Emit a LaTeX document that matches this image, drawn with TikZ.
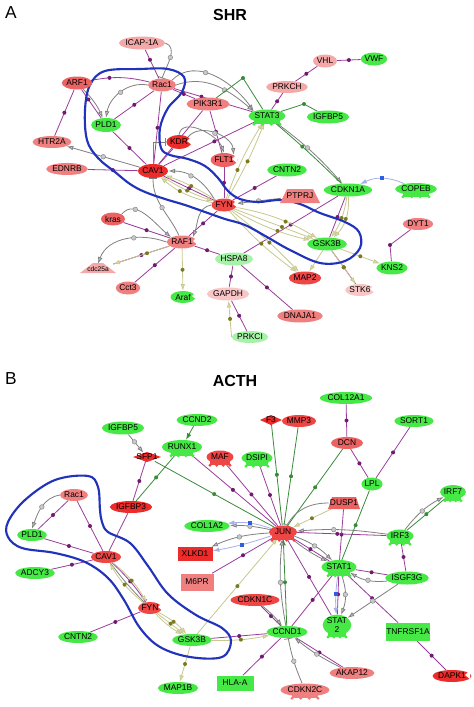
\documentclass[tikz,border=0pt]{standalone}
\usepackage{fontspec}
\setmainfont{Liberation Sans}
\usetikzlibrary{shapes.geometric,arrows.meta,calc}
\pgfdeclarelayer{bg}
\pgfsetlayers{bg,main}
\definecolor{cRed}{HTML}{EC2B2B}
\definecolor{cRed2}{HTML}{EE4545}
\definecolor{cSal}{HTML}{F08080}
\definecolor{cSal2}{HTML}{EC6262}
\definecolor{cPink}{HTML}{F5A8A8}
\definecolor{cPink2}{HTML}{F8C6C6}
\definecolor{cGrn}{HTML}{46E846}
\definecolor{cLgrn}{HTML}{A6F2A6}
\definecolor{cPur}{HTML}{9A3C9A}
\definecolor{cPurD}{HTML}{701A70}
\definecolor{cGry}{HTML}{808080}
\definecolor{cGryL}{HTML}{C8C8C8}
\definecolor{cOli}{HTML}{C8C890}
\definecolor{cOliD}{HTML}{7A7A20}
\definecolor{cOliL}{HTML}{E0E0A8}
\definecolor{cDgr}{HTML}{3A8A3A}
\definecolor{cLav}{HTML}{A8B0E8}
\definecolor{cBsq}{HTML}{2F5FE0}
\definecolor{cLoop}{HTML}{2233BB}
\newcommand{\ndfont}{\fontsize{6.3}{7}\selectfont}
\newcommand{\frg}[3]{\fill[#2] ($(#1.south)+(-#3,-3)$) rectangle ($(#1.south)+(#3,1.5)$);
  \foreach \k in {-1,-0.33,0.33,1}{\fill[#2] ($(#1.south)+(\k*#3,1.5)$) circle[radius=1.2pt];}}
\newcommand{\ntch}[2]{\fill[white] ($(#1.center)+(#2-3,-1)$) -- ($(#1.center)+(#2+2,-6)$) -- ($(#1.center)+(#2+2,3)$) -- cycle;}
% trapezoid: x y halfbottom halftop halfheight colour
\newcommand{\tzp}[6]{\fill[#6] (#1-#3,#2+#5) -- (#1+#3,#2+#5) -- (#1+#4,#2-#5) -- (#1-#4,#2-#5) -- cycle;}
% diamond: x y halfwidth halfheight colour
\newcommand{\dmd}[5]{\fill[#5] (#1-#3,#2) -- (#1,#2-#4) -- (#1+#3,#2) -- (#1,#2+#4) -- cycle;}
\tikzset{
 nd/.style={shape=ellipse, fill=#1, inner sep=0pt, font=\ndfont},
 sz/.style args={#1/#2}{minimum width={#1*0.75pt}, minimum height={#2*0.75pt}},
 bx/.style={shape=rectangle, fill=#1, inner sep=0pt, font=\ndfont},
 bx0/.style={shape=rectangle, inner sep=0pt, font=\ndfont},
 pe/.style={draw=cPur, line width=.6pt},
 pd/.style={circle, fill=cPurD, inner sep=0pt, minimum size=3pt},
 ge/.style={draw=cGry, line width=.6pt, -{Latex[length=5pt,width=3.5pt,fill=cGryL]}},
 gi/.style={draw=cGry, line width=.6pt, -{Bar[width=6pt]}},
 gd/.style={circle, fill=cGryL, draw=cGry, line width=.3pt, inner sep=0pt, minimum size=3.5pt},
 oe/.style={draw=cOli, line width=.6pt, -{Latex[length=5pt,width=3.5pt,fill=cOliL]}},
 od/.style={circle, fill=cOliD, inner sep=0pt, minimum size=3pt},
 ve/.style={draw=cDgr, line width=.6pt},
 va/.style={draw=cDgr, line width=.6pt, -{Latex[length=5pt,width=3.5pt,fill=cDgr]}},
 vd/.style={circle, fill=cDgr, inner sep=0pt, minimum size=3pt},
 be/.style={draw=cLav, line width=.6pt, -{Latex[length=5pt,width=3.5pt,fill=cLav]}},
 bd/.style={rectangle, fill=cBsq, inner sep=0pt, minimum size=3pt},
 lp/.style={draw=cLoop, line width=1.6pt},
}
\begin{document}
\begin{tikzpicture}[x=0.75pt,y=-0.75pt]
\useasboundingbox (0,0) rectangle (474,707);
% titles
\node[font=\fontsize{13}{15}\selectfont] (tA) at (11,13) {A};
\node[font=\bfseries\fontsize{12}{14}\selectfont] (tSHR) at (230,15) {SHR};
\node[font=\fontsize{13}{15}\selectfont] (tB) at (11,379) {B};
\node[font=\bfseries\fontsize{12}{14}\selectfont] (tACTH) at (235,381) {ACTH};
% ---------------- panel A nodes
\node[nd=cPink, sz=42/13] (aICAP) at (142,43) {ICAP-1A};
\node[nd=cSal2, sz=30/13] (aARF) at (77,83) {ARF1};
\node[nd=cSal, sz=26/13] (aRAC) at (162,85) {Rac1};
\node[nd=cSal, sz=43/13] (aPIK) at (208,104) {PIK3R1};
\node[nd=cGrn, sz=28/14] (aPLD) at (106,125) {PLD1};
\node[nd=cSal, sz=35/12] (aHTR) at (52,142) {HTR2A};
\node[nd=cRed, sz=22/14] (aKDR) at (179,142) {KDR};
\node[nd=cSal2, sz=23/14] (aFLT) at (224,160) {FLT1};
\node[nd=cSal, sz=37/12] (aEDN) at (67,169) {EDNRB};
\node[nd=cRed, sz=29/14] (aCAV) at (153,171) {CAV1};
\node[nd=cPink, sz=24/13] (aVHL) at (325,61) {VHL};
\node[nd=cGrn, sz=24/13] (aVWF) at (374,59) {VWF};
\node[nd=cPink, sz=37/12] (aPRKCH) at (287,87) {PRKCH};
\node[nd=cGrn, sz=37/13] (aSTAT3) at (267,116) {STAT3};
\node[nd=cGrn, sz=37/13] (aIGF) at (328,117) {IGFBP5};
\node[nd=cGrn, sz=36/13] (aCNTN) at (287,170) {CNTN2};
\tzp{300}{196}{20}{13}{7}{cSal}
\node[bx0, sz=38/14] (aPTP) at (300,196) {PTPRJ};
\node[nd=cGrn, sz=38/13] (aCDKN) at (348,190) {CDKN1A};
\node[nd=cGrn, sz=35/12] (aCOP) at (416,189) {COPEB};
\node[nd=cSal, sz=27/12] (aDYT) at (418,224) {DYT1};
\node[nd=cGrn, sz=35/13] (aGSK) at (327,244) {GSK3B};
\node[nd=cGrn, sz=28/13] (aKNS) at (392,268) {KNS2};
\node[nd=cRed2, sz=30/13] (aMAP2) at (305,278) {MAP2};
\node[nd=cPink2, sz=26/12] (aSTK) at (360,290) {STK6};
\node[nd=cSal, sz=39/13] (aDNA) at (300,316) {DNAJA1};
\node[nd=cLgrn, sz=34/13] (aHSP) at (234,259) {HSPA8};
\node[nd=cPink2, sz=37/13] (aGAP) at (228,294) {GAPDH};
\node[nd=cLgrn, sz=32/12] (aPRKCI) at (250,337) {PRKCI};
\node[nd=cSal2, sz=24/13] (aKRAS) at (113,219) {kras};
\node[nd=cSal, sz=28/13] (aRAF) at (182,242) {RAF1};
\tzp{98}{268}{18}{5}{5}{cPink}
\node[bx0, sz=30/10, font=\fontsize{5}{6}\selectfont] (aCDC) at (98,269) {cdc25a};
\node[nd=cSal, sz=24/13] (aCCT) at (128,288) {Cct3};
\node[nd=cGrn, sz=25/12] (aARAF) at (183,297) {Araf};
\node[nd=cRed2, sz=25/13] (aFYN) at (224,205) {FYN};
\frg{aSTAT3}{cGrn}{13}
\frg{aCOP}{cGrn}{13}
\ntch{aKDR}{11}
\ntch{aFLT}{11}
\ntch{aFYN}{12}
\ntch{aRAF}{14}
\ntch{aARAF}{12}
\ntch{aSTK}{13}
% ---------------- panel B nodes
\node[nd=cGrn, sz=37/13] (bIGF) at (123,428) {IGFBP5};
\node[nd=cGrn, sz=35/12] (bCCND2) at (197,420) {CCND2};
\node[nd=cGrn, sz=30/14] (bRUNX) at (182,447) {RUNX1};
\dmd{147}{457}{14}{5}{cRed}
\node[bx0, sz=22/8] (bSFP) at (147,457) {SFP1};
\node[nd=cRed2, sz=27/13] (bMAF) at (220,457) {MAF};
\node[nd=cSal, sz=25/12] (bRAC) at (74,495) {Rac1};
\node[nd=cRed, sz=35/12] (bIGF3) at (131,507) {IGFBP3};
\node[nd=cGrn, sz=36/12] (bCOL1) at (207,526) {COL1A2};
\dmd{271}{420}{11}{5}{cRed}
\node[bx0, sz=12/8] (bF3) at (271,420) {F3};
\node[nd=cRed2, sz=32/12] (bMMP) at (299,421) {MMP3};
\node[nd=cGrn, sz=42/12] (bCOL12) at (346,398) {COL12A1};
\node[nd=cSal2, sz=32/12] (bDCN) at (347,443) {DCN};
\node[nd=cGrn, sz=35/12] (bSORT) at (414,421) {SORT1};
\node[nd=cGrn, sz=29/13] (bDSI) at (257,458) {DSIPI};
\node[nd=cGrn, sz=21/13] (bLPL) at (372,484) {LPL};
\tzp{344}{503}{16}{12}{6}{cSal2}
\node[bx0, sz=30/12] (bDUSP) at (344,503) {DUSP1};
\node[nd=cGrn, sz=22/14] (bIRF7) at (453,492) {IRF7};
\node[nd=cRed2, sz=28/13] (bJUN) at (283,532) {JUN};
\node[bx=cRed, sz=35/14] (bXLK) at (195,554) {XLKD1};
\node[bx=cSal, sz=33/17] (bM6) at (197,582) {M6PR};
\node[nd=cGrn, sz=25/12] (bPLD) at (32,535) {PLD1};
\node[nd=cRed2, sz=28/12] (bCAV) at (106,557) {CAV1};
\node[nd=cGrn, sz=34/12] (bADC) at (35,573) {ADCY3};
\node[nd=cRed2, sz=22/12] (bFYN) at (150,608) {FYN};
\node[nd=cGrn, sz=33/12] (bCNTN) at (78,637) {CNTN2};
\node[nd=cGrn, sz=28/12] (bGSK) at (192,640) {GSK3B};
\node[nd=cGrn, sz=33/12] (bMAP1B) at (178,688) {MAP1B};
\node[nd=cGrn, sz=27/13] (bIRF3) at (400,536) {IRF3};
\node[nd=cGrn, sz=30/14] (bSTAT1) at (339,567) {STAT1};
\node[nd=cGrn, sz=36/13] (bISG) at (407,578) {ISGF3G};
\node[nd=cRed2, sz=40/12] (bCDK1C) at (255,600) {CDKN1C};
\node[nd=cGrn, sz=33/12] (bCCND1) at (287,632) {CCND1};
\node[nd=cGrn, sz=24/20, align=center, font=\fontsize{6.3}{6.5}\selectfont] (bSTAT2) at (337,625) {STAT\\2};
\node[bx=cGrn, sz=43/18] (bTNF) at (408,632) {TNFRSF1A};
\node[bx=cGrn, sz=37/15] (bHLA) at (235,683) {HLA-A};
\node[nd=cSal, sz=37/13] (bCDK2C) at (305,690) {CDKN2C};
\node[nd=cSal, sz=37/12] (bAKAP) at (352,673) {AKAP12};
\node[nd=cRed, sz=33/12] (bDAPK) at (452,676) {DAPK1};
\frg{bRUNX}{cGrn}{11}
\frg{bMAF}{cRed2}{10}
\frg{bDSI}{cGrn}{11}
\frg{bIRF7}{cGrn}{8}
\frg{bJUN}{cRed2}{11}
\frg{bIRF3}{cGrn}{10}
\frg{bSTAT1}{cGrn}{11}
\frg{bSTAT2}{cGrn}{9}
\frg{bCDK2C}{cSal}{13}
\ntch{bFYN}{11}
\ntch{bDAPK}{16}
% ---------------- edges
\begin{pgfonlayer}{bg}
\fill[white] (0,0) rectangle (474,707);
% panel A purple
\draw[pe] (aICAP) -- node[pd,pos=.35]{} (aRAC);
\draw[pe] (aARF) to[bend left=12] node[pd,pos=.3]{} (aRAC);
\draw[pe] (aARF) -- node[pd,pos=.35]{} (aPLD);
\draw[pe] (aARF) -- node[pd]{} (aHTR);
\draw[pe] (aRAC) -- node[pd]{} (aPLD);
\draw[pe] (aRAC) -- node[pd]{} (aPIK);
\draw[pe] (aRAC) -- node[pd]{} (aCAV);
\draw[pe] (aRAC) -- node[pd,pos=.35]{} (aSTAT3);
\draw[pe] (aPLD) -- node[pd]{} (aCAV);
\draw[pe] (aEDN) -- node[pd]{} (aCAV);
\draw[pe] (aPIK) -- node[pd,pos=.6]{} (aCAV);
\draw[pe] (aPIK) -- node[pd]{} (aFLT);
\draw[pe] (aCAV) -- node[pd,pos=.55]{} (aSTAT3);
\draw[pe] (aFLT) -- node[pd]{} (aFYN);
\draw[pe] (aCAV) -- node[pd]{} (aFYN);
\draw[pe] (aCAV) -- (aKDR);
\draw[pe] (aCNTN) -- node[pd]{} (aFYN);
\draw[pe] (aKRAS) -- node[pd]{} (aRAF);
\draw[pe] (aRAF) -- node[pd]{} (aFYN);
\draw[pe] (aRAF) -- node[pd]{} (aCDC);
\draw[pe] (aRAF) -- node[pd]{} (aCCT);
\draw[pe] (aRAF) -- node[pd]{} (aHSP);
\draw[pe] (aHSP) -- node[pd]{} (aGAP);
\draw[pe] (aHSP) -- node[pd]{} (aDNA);
\draw[pe] (aGAP) -- node[pd]{} (aPRKCI);
\draw[pe] (aHSP) -- node[pd,pos=.5]{} (aCDKN);
\draw[pe] (aCDKN) -- node[pd]{} (aGSK);
\draw[pe] (aGSK) -- node[pd]{} (aSTK);
\draw[pe] (aKNS) -- (390,245) node[pd]{} -- (aDYT);
\draw[pe] (aVHL) -- node[pd]{} (aVWF);
\draw[pe] (aVHL) -- node[pd]{} (aPRKCH);
\draw[pe] (aPRKCH) -- node[pd]{} (aSTAT3);
% panel A gray
\draw[gi] (aICAP.east) to[out=-20,in=70] node[gd]{} (aRAC.north);
\draw[ge] (aRAC.west) to[out=170,in=80] node[gd]{} (aPLD.north);
\draw[ge] (aARF) to[bend left=10] (aPLD);
\draw[ge] (aCAV) -- node[gd]{} (aHTR);
\draw[gi] (aCAV.north) |- (aKDR.west);
\draw[ge] (aKDR.north) to[out=80,in=110] (aFLT.north);
\draw[ge] (aKDR.north east) to[out=50,in=95] node[gd]{} (aFLT.north east);
\draw[ge] (aRAC.north east) to[out=45,in=125] node[gd,pos=.4]{} (aSTAT3.north west);
\draw[ge] (aRAC.east) to[out=20,in=140] node[gd,pos=.6]{} (aSTAT3.north west);
\draw[gi] (aRAF) to[out=115,in=-90] node[gd]{} (aCAV.south);
\draw[ge] (aFYN.west) to[out=190,in=70] (aRAF.north east);
\draw[ge] (aKRAS.north east) to[out=50,in=140] node[gd,pos=.3]{} (aRAF.north west);
\draw[ge] (aRAF.west) to[out=160,in=70] node[gd,pos=.4]{} (aCDC.north);
\draw[ge] (aFYN.north west) to[out=120,in=0] node[gd,pos=.6]{} (aCAV.east);
\draw[ge] (aSTAT3) to[bend left=6] node[gd,pos=.45]{} (aCDKN);
\draw[ge] (aPTP) -- node[gd]{} (aFYN);
% panel A olive
\draw[oe] (aFYN) to[bend left=6] node[od,pos=.35]{} (aSTAT3);
\draw[oe] (aFYN) to[bend right=4] node[od,pos=.5]{} (aSTAT3);
\draw[oe] (aFYN) to[bend right=6] node[od]{} (aCAV);
\draw[oe] (aCAV) to[bend right=6] node[od]{} (aFYN);
\draw[oe] (aFYN) to[bend left=14] node[od,pos=.6]{} (aCAV);
\draw[oe] (aFYN) to[bend left=10] node[od,pos=.6]{} (aGSK);
\draw[oe] (aFYN) -- node[od,pos=.6]{} (aGSK);
\draw[oe] (aFYN) to[bend right=8] node[od,pos=.6]{} (aGSK);
\draw[oe] (aFYN) to[bend left=4] node[od,pos=.55]{} (aMAP2);
\draw[oe] (aFYN) to[bend right=6] node[od,pos=.5]{} (aMAP2);
\draw[oe] (aRAF) -- node[od]{} (aARAF);
\draw[oe] (aRAF) -- node[od,pos=.4]{} (aCDC);
\draw[oe] (aPRKCI.west) -- node[od]{} (aGAP);
\draw[oe] (aCDKN) to[bend left=12] node[od]{} (aGSK);
\draw[oe] (aCDKN) to[bend left=24] node[od]{} (aGSK);
\draw[oe] (aGSK) -- (aMAP2);
\draw[oe] (aGSK) -- node[od]{} (aSTK);
\draw[oe] (aGSK) -- node[od]{} (aKNS);
% panel A green / blue
\draw[ve] (aSTAT3) -- (304,104) node[vd]{} -- (aIGF);
\draw[ve] (aPIK) -- (243,78) node[vd]{} -- (aSTAT3);
\draw[ve] (aSTAT3) to[bend left=2] node[vd,pos=.4]{} (aCDKN);
\draw[be] (aCOP) to[bend right=25] node[bd]{} (aCDKN);
% panel B purple
\draw[pe] (bRAC) -- node[pd]{} (bPLD);
\draw[pe] (bRAC) -- node[pd]{} (bCAV);
\draw[pe] (bPLD) -- node[pd]{} (bCAV);
\draw[pe] (bADC) -- node[pd]{} (bCAV);
\draw[pe] (bIGF3) -- (bCAV);
\draw[pe] (bSFP) -- node[pd]{} (bIGF3);
\draw[pe] (bCAV) to[bend left=6] node[pd]{} (bFYN);
\draw[pe] (bCNTN) -- node[pd]{} (bFYN);
\draw[pe] (bGSK) -- node[pd]{} (bCCND1);
\draw[pe] (bRUNX) -- node[pd]{} (bJUN);
\draw[pe] (bMAF) -- node[pd]{} (bJUN);
\draw[pe] (bDSI) -- node[pd]{} (bJUN);
\draw[pe] (bCOL12) -- node[pd]{} (bDCN);
\draw[pe] (bDCN) -- node[pd]{} (bLPL);
\draw[pe] (bSORT) -- node[pd]{} (bLPL);
\draw[pe] (bDUSP) -- node[pd]{} (bSTAT1);
\draw[pe] (bJUN) -- node[pd,pos=.45]{} (bIRF3);
\draw[pe] (bIRF3) -- node[pd]{} (bISG);
\draw[pe] (bSTAT1) -- node[pd]{} (bISG);
\draw[pe] (bJUN) -- node[pd]{} (bSTAT1);
\draw[pe] (bJUN) -- node[pd]{} (bSTAT2);
\draw[pe] (bM6) -- node[pd]{} (bJUN);
\draw[pe] (bCDK1C) -- node[pd]{} (bCCND1);
\draw[pe] (bCCND1) -- node[pd]{} (bHLA);
\draw[pe] (bAKAP) -- node[pd]{} (bCCND1);
\draw[pe] (bCCND1) -- node[pd]{} (bSTAT1);
\draw[pe] (bSTAT1) -- node[pd]{} (bSTAT2);
\draw[pe] (bSTAT1) -- node[pd]{} (bTNF);
\draw[pe] (bTNF) -- node[pd]{} (bDAPK);
% panel B green
\draw[va] (bCCND2) -- (bRUNX);
\draw[ve] (bRUNX) -- node[vd]{} (bIGF3);
\draw[ve] (bSFP) -- node[vd]{} (bJUN);
\draw[ve] (bF3) -- node[vd]{} (bJUN);
\draw[ve] (bMMP) -- node[vd]{} (bJUN);
\draw[ve] (bDCN) -- node[vd]{} (bJUN);
\draw[ve] (bLPL) -- node[vd]{} (bSTAT1);
\draw[ve] (bIRF3) -- node[vd]{} (bIRF7);
\draw[va] (bCCND1) -- node[vd]{} (bJUN);
% panel B gray
\draw[ge] (bIGF) -- node[gd,pos=.4]{} (bSFP);
\draw[ge] (bRAC.west) to[out=190,in=70] node[gd]{} (bPLD.north);
\draw[gi] (bCAV) to[bend right=4] (bFYN);
\draw[ge] (bJUN) to[bend right=6] node[gd]{} (bCOL1);
\draw[ge] (bJUN) to[bend right=10] node[gd]{} (bXLK);
\draw[gi] (bDUSP.west) to[out=180,in=60] (bJUN);
\draw[ge] (bIRF3) to[bend right=6] node[gd,pos=.6]{} (bJUN);
\draw[ge] (bJUN) to[bend left=12] node[gd]{} (bSTAT1);
\draw[ge] (bJUN) to[bend right=6] (bSTAT1);
\draw[ge] (bISG) to[bend left=18] node[gd]{} (bSTAT1);
\draw[ge] (bSTAT1) to[bend left=20] node[gd]{} (bSTAT2);
\draw[ge] (bISG) -- node[gd]{} (bSTAT2);
\draw[ge] (bIRF3) to[bend left=12] node[gd]{} (bIRF7);
\draw[ge] (bCCND1) to[bend left=8] node[gd]{} (bJUN);
\draw[ge] (bCDK1C) to[bend left=6] (bCCND1);
\draw[gi] (bCDK2C) to[bend left=6] node[gd]{} (bCCND1);
\draw[ge] (bAKAP) to[bend left=6] node[gd]{} (bCCND1);
% panel B olive
\draw[oe] (bCAV) to[bend left=10] node[od]{} (bFYN);
\draw[oe] (bFYN) to[bend left=10] node[od]{} (bCAV);
\draw[oe] (bFYN) to[bend left=10] node[od]{} (bGSK);
\draw[oe] (bFYN) -- node[od]{} (bGSK);
\draw[oe] (bFYN) to[bend right=8] (bGSK);
\draw[oe] (bGSK) -- node[od]{} (bMAP1B);
\draw[oe] (bGSK) -- node[od]{} (bJUN);
\draw[oe] (bGSK) to[bend right=6] node[od]{} (bCCND1);
\draw[oe] (bDUSP) -- node[od]{} (bJUN);
% panel B blue
\draw[be] (bJUN) to[bend right=12] node[bd]{} (bCOL1);
\draw[be] (bJUN) to[bend left=4] node[bd]{} (bXLK);
\draw[be] (bSTAT1) to[bend right=6] node[bd]{} (bSTAT2);
% loops
\draw[lp] plot[smooth cycle, tension=0.6] coordinates {(140,69) (105,71) (90,85) (85,110) (87,140) (98,158) (115,172) (130,184) (145,192) (165,199) (185,205) (205,212) (225,219) (245,225) (267,237) (290,250) (320,263) (345,261) (360,248) (359,232) (345,222) (320,213) (300,204) (280,200) (258,202) (240,199) (228,191) (218,178) (205,166) (188,159) (170,155) (161,148) (160,128) (168,108) (182,92) (184,77) (168,69)};
\draw[lp] plot[smooth cycle, tension=0.6] coordinates {(100,510) (98,487) (88,476) (55,480) (25,500) (8,522) (8,537) (22,548) (55,553) (85,562) (108,578) (124,600) (140,628) (160,647) (190,657) (222,657) (231,641) (222,628) (196,615) (168,594) (148,566) (130,543) (108,532) (102,522)};
\end{pgfonlayer}
\end{tikzpicture}
\end{document}
